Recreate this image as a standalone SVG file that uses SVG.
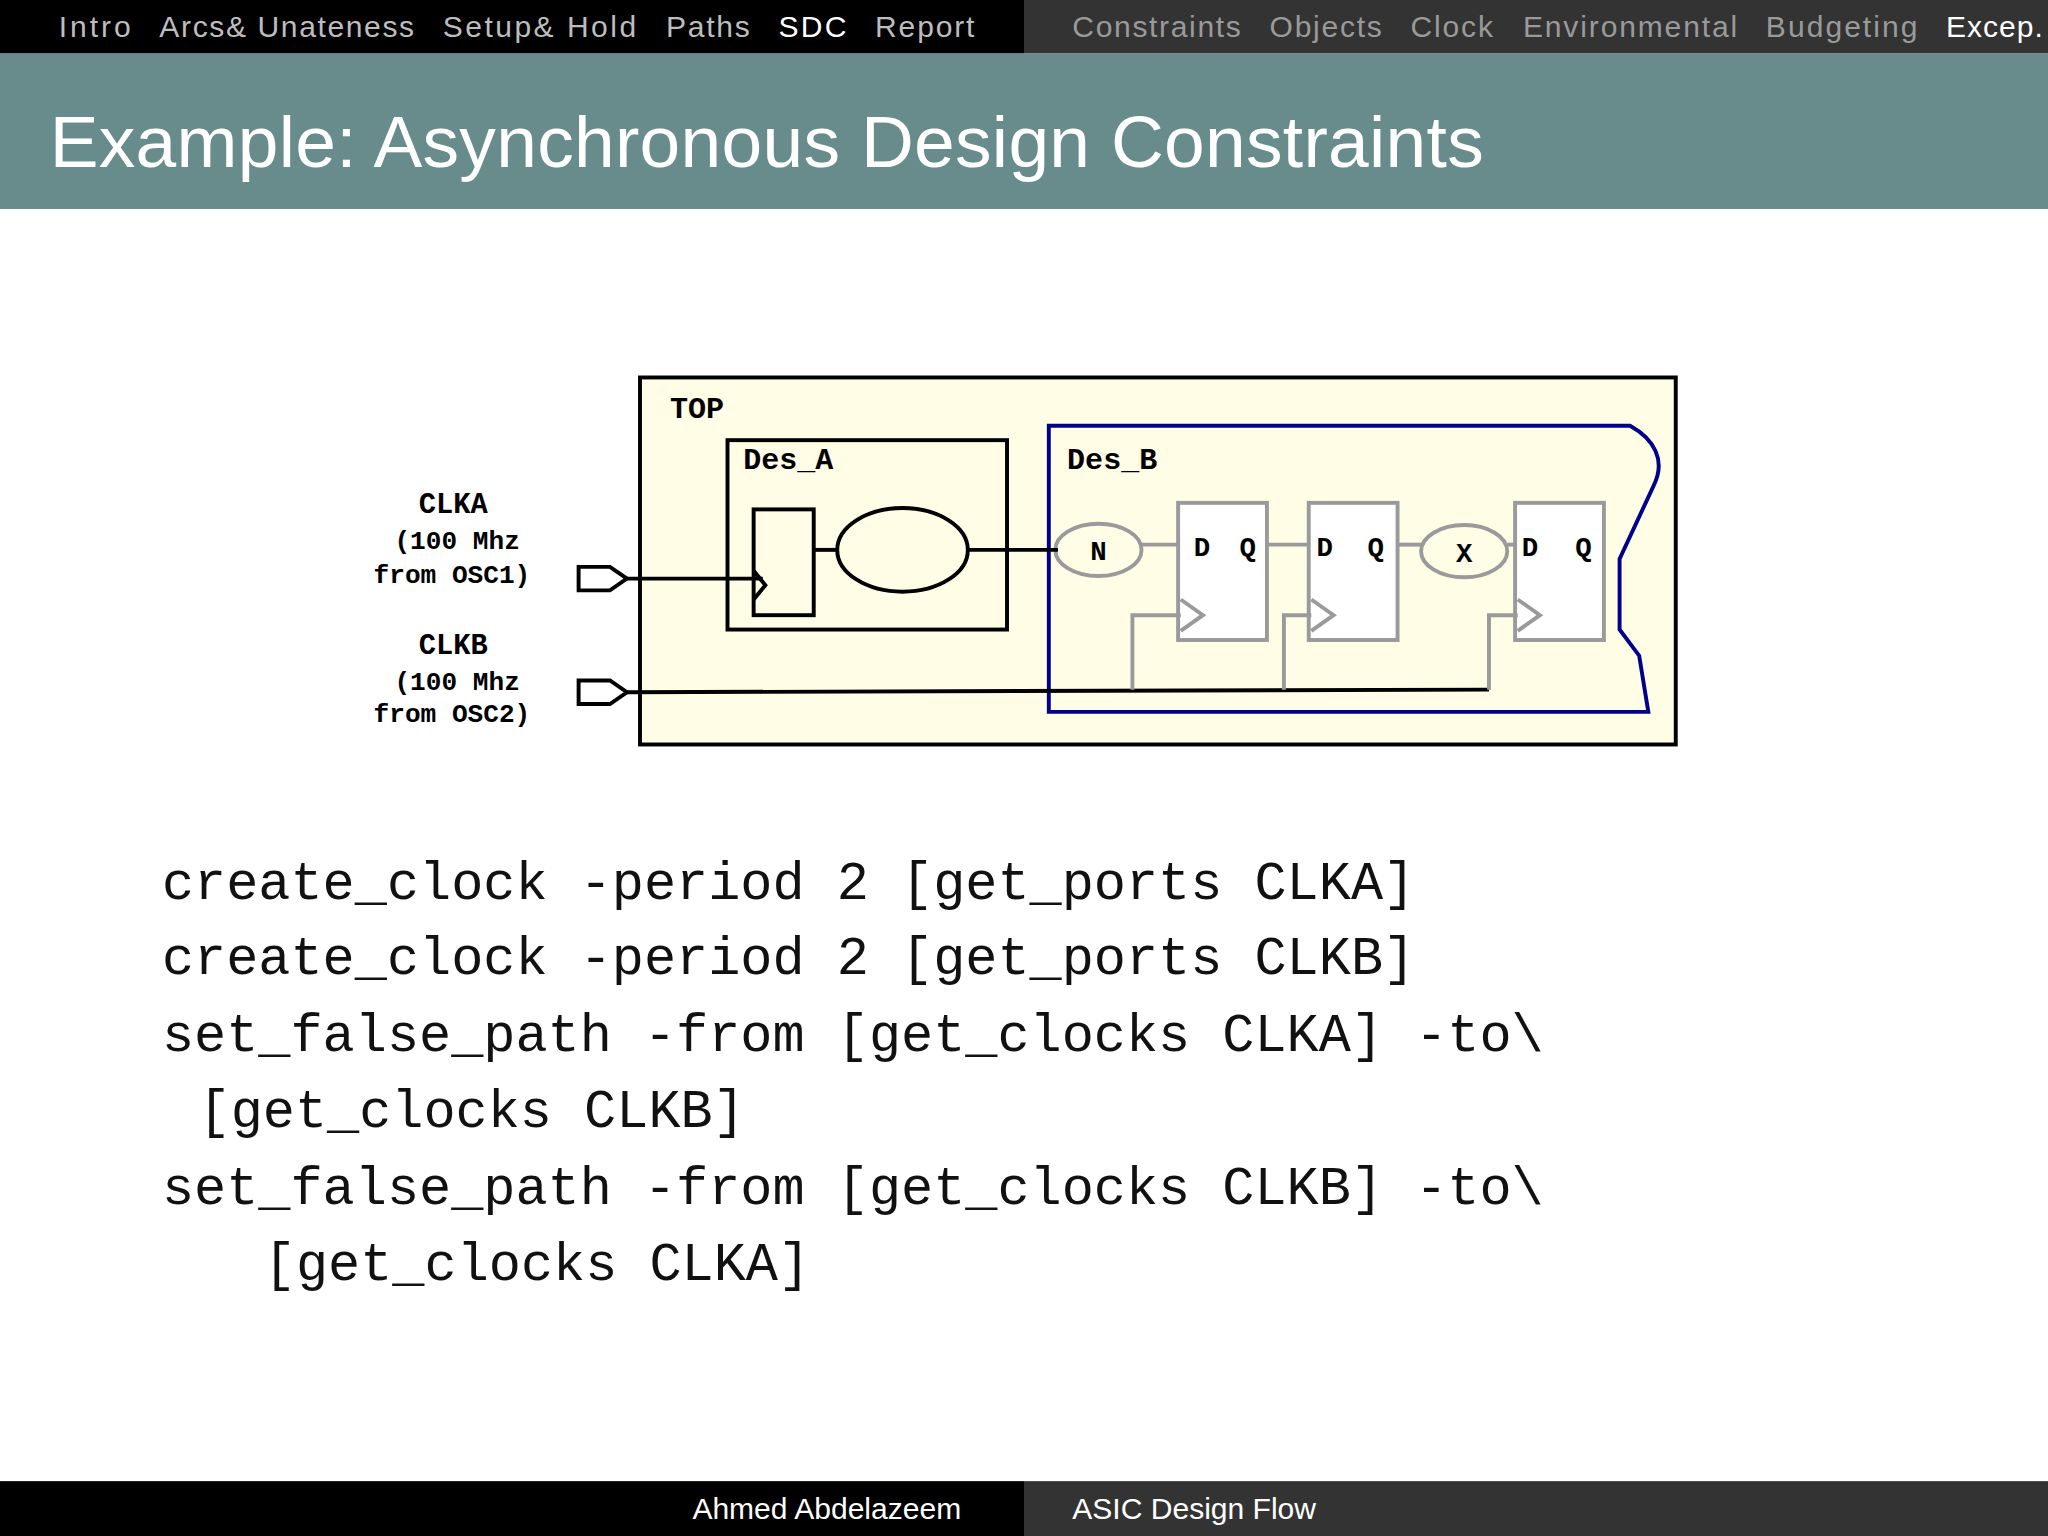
<svg xmlns="http://www.w3.org/2000/svg" width="2048" height="1536" viewBox="0 0 2048 1536">
<style>
.nav{font-family:"Liberation Sans",Arial,sans-serif;font-size:23px;fill:#bdbdbd}
.navr{font-family:"Liberation Sans",Arial,sans-serif;font-size:23px;fill:#9a9a9a}
.act{fill:#ffffff}
.mono{font-family:"Liberation Mono","Courier New",monospace;font-weight:bold;fill:#000}
.code{font-family:"Liberation Mono","Courier New",monospace;font-size:41px;fill:#111}
.blk{fill:none;stroke:#000;stroke-width:3}
.gry{fill:none;stroke:#9a9a9a;stroke-width:3}
.ff{fill:#fff;stroke:#9a9a9a;stroke-width:3}
</style>
<rect width="2048" height="1536" fill="#fff"/>
<g transform="scale(1.30612)">
<g id="header">
<rect x="0" y="0" width="784" height="41" fill="#000"/>
<rect x="784" y="0" width="784" height="41" fill="#333"/>
<text class="nav" x="45" y="28" textLength="55">Intro</text>
<text class="nav" x="122" y="28" textLength="195">Arcs&amp; Unateness</text>
<text class="nav" x="339" y="28" textLength="148">Setup&amp; Hold</text>
<text class="nav" x="510" y="28" textLength="64">Paths</text>
<text class="nav act" x="596" y="28" textLength="52">SDC</text>
<text class="nav" x="670" y="28" textLength="76">Report</text>
<text class="navr" x="821" y="28" textLength="129">Constraints</text>
<text class="navr" x="972" y="28" textLength="86">Objects</text>
<text class="navr" x="1080" y="28" textLength="63">Clock</text>
<text class="navr" x="1166" y="28" textLength="164">Environmental</text>
<text class="navr" x="1352" y="28" textLength="116">Budgeting</text>
<text class="navr act" x="1490" y="28" textLength="74">Excep.</text>
<rect x="0" y="41" width="1568" height="119" fill="#688c8c"/>
<text x="38" y="128" font-family="Liberation Sans,Arial,sans-serif" font-size="56" fill="#fff" textLength="1098">Example: Asynchronous Design Constraints</text>
</g>
<g id="TOP">
<rect x="490" y="289" width="793" height="281" fill="#fffde6" stroke="#000" stroke-width="3"/>
<text class="mono" x="513" y="320" font-size="23">TOP</text>
</g>
<g id="Des_A">
<rect class="blk" x="557" y="337" width="214" height="145"/>
<text class="mono" x="569" y="359" font-size="23">Des_A</text>
<rect class="blk" x="577" y="390" width="46" height="81"/>
<polyline class="blk" points="577,437 586,448 577,459"/>
<ellipse class="blk" cx="691" cy="421" rx="50" ry="32"/>
</g>
<g id="Des_B">
<path d="M803,326 L1248,326 C1266,336 1276,352 1266,372 L1240,428 L1240,482 L1255,502 L1262,545 L803,545 Z" fill="none" stroke="#00008b" stroke-width="3"/>
<text class="mono" x="817" y="359" font-size="23">Des_B</text>
</g>
<g id="N"><ellipse class="gry" cx="841" cy="421" rx="33" ry="20"/><text class="mono" x="841" y="429" font-size="21" text-anchor="middle">N</text></g>
<g id="FF1"><rect class="ff" x="902" y="385" width="68" height="105"/><text class="mono" x="914" y="426" font-size="21">D</text><text class="mono" x="949" y="426" font-size="21">Q</text><polyline class="gry" points="904,459 921,471 904,483"/></g>
<g id="FF2"><rect class="ff" x="1002" y="385" width="68" height="105"/><text class="mono" x="1008" y="426" font-size="21">D</text><text class="mono" x="1047" y="426" font-size="21">Q</text><polyline class="gry" points="1004,459 1021,471 1004,483"/></g>
<g id="X"><ellipse class="gry" cx="1121" cy="422" rx="33" ry="20"/><text class="mono" x="1121" y="430" font-size="21" text-anchor="middle">X</text></g>
<g id="FF3"><rect class="ff" x="1160" y="385" width="68" height="105"/><text class="mono" x="1165" y="426" font-size="21">D</text><text class="mono" x="1206" y="426" font-size="21">Q</text><polyline class="gry" points="1162,459 1179,471 1162,483"/></g>
<g id="CLKA">
<polygon class="blk" points="443,434 467,434 480,443 467,452 443,452"/>
<text class="mono" x="347" y="393" font-size="22" text-anchor="middle">CLKA</text>
<text class="mono" x="350" y="420" font-size="20" text-anchor="middle" font-weight="normal">(100 Mhz</text>
<text class="mono" x="346" y="446" font-size="20" text-anchor="middle" font-weight="normal">from OSC1)</text>
</g>
<g id="CLKB">
<polygon class="blk" points="443,521 467,521 480,530 467,539 443,539"/>
<text class="mono" x="347" y="501" font-size="22" text-anchor="middle">CLKB</text>
<text class="mono" x="350" y="528" font-size="20" text-anchor="middle" font-weight="normal">(100 Mhz</text>
<text class="mono" x="346" y="553" font-size="20" text-anchor="middle" font-weight="normal">from OSC2)</text>
</g>
<g id="connectors">
<line class="blk" x1="480" y1="443" x2="584" y2="443"/>
<line class="blk" x1="623" y1="421" x2="641" y2="421"/>
<line class="blk" x1="741" y1="421" x2="810" y2="421"/>
<line class="gry" x1="874" y1="417" x2="902" y2="417"/>
<line class="gry" x1="970" y1="417" x2="1002" y2="417"/>
<line class="gry" x1="1070" y1="417" x2="1088" y2="417"/>
<line class="gry" x1="1154" y1="417" x2="1160" y2="417"/>
<line class="blk" x1="480" y1="530" x2="1140" y2="528"/>
<polyline class="gry" points="867,528 867,471 904,471"/>
<polyline class="gry" points="983,528 983,471 1004,471"/>
<polyline class="gry" points="1140,528 1140,471 1162,471"/>
</g>
<g id="code">
<text class="code" x="124" y="688">create_clock -period 2 [get_ports CLKA]</text>
<text class="code" x="124" y="746">create_clock -period 2 [get_ports CLKB]</text>
<text class="code" x="124" y="805">set_false_path -from [get_clocks CLKA] -to\</text>
<text class="code" x="152" y="863">[get_clocks CLKB]</text>
<text class="code" x="124" y="922">set_false_path -from [get_clocks CLKB] -to\</text>
<text class="code" x="202" y="980">[get_clocks CLKA]</text>
</g>
<g id="footer">
<rect x="0" y="1134" width="784" height="42" fill="#000"/>
<rect x="784" y="1134" width="784" height="42" fill="#333"/>
<text x="633" y="1163" font-family="Liberation Sans,Arial,sans-serif" font-size="23" fill="#fff" text-anchor="middle">Ahmed Abdelazeem</text>
<text x="821" y="1163" font-family="Liberation Sans,Arial,sans-serif" font-size="23" fill="#fff">ASIC Design Flow</text>
</g>
</g>
</svg>
